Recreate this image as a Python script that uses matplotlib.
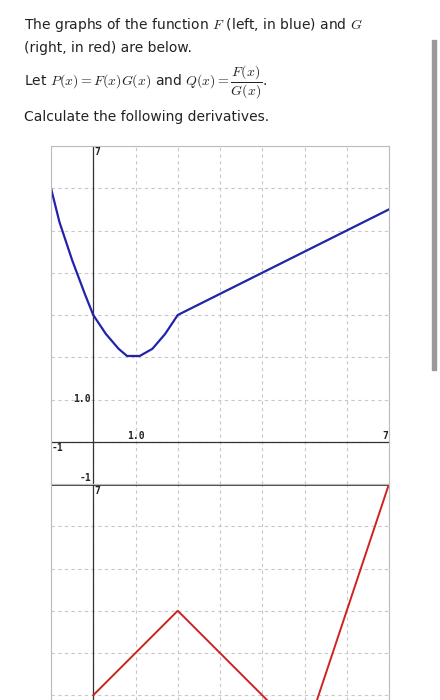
import matplotlib
matplotlib.use("Agg")
import matplotlib.pyplot as plt
from matplotlib.patches import Rectangle

plt.rcParams["mathtext.fontset"] = "cm"

# Data
F_x = [-1, -0.8, -0.5, -0.2, 0, 0.3, 0.6, 0.8, 1.1, 1.4, 1.7, 2, 7]
F_y = [6, 5.2, 4.3, 3.5, 3.0, 2.55, 2.2, 2.03, 2.03, 2.2, 2.55, 3.0, 5.5]
G_x = [0, 2, 4, 5, 7]
G_y = [2, 4, 2, 1, 7]
xlim = (-1, 7)

W, H = 440, 700
fig = plt.figure(figsize=(4.4, 7), dpi=100)
fig.patch.set_facecolor("white")

def fx(p): return p / W
def fy(p): return 1 - p / H

fs = 10
fig.text(fx(24), fy(25), r"The graphs of the function $F$ (left, in blue) and $G$", fontsize=fs, va="center", color="#222")
fig.text(fx(24), fy(48), "(right, in red) are below.", fontsize=fs, va="center", color="#222")
fig.text(fx(24), fy(82), r"Let $P(x) = F(x)G(x)$ and $Q(x) = \dfrac{F(x)}{G(x)}$.", fontsize=fs, va="center", color="#222")
fig.text(fx(24), fy(117), "Calculate the following derivatives.", fontsize=fs, va="center", color="#222")

# scrollbar
fig.patches.append(Rectangle((fx(432), fy(370)), fx(4), 330 / H, transform=fig.transFigure,
                             color="#999", zorder=5))

L, R = 51, 389
unit = (R - L) / 8.0
top1, bot1 = 146, 484
ax1 = fig.add_axes([fx(L), fy(bot1), (R - L) / W, (bot1 - top1) / H])
bot2 = 700
ax2 = fig.add_axes([fx(L), 0, (R - L) / W, (bot2 - bot1) / H])

lab = dict(fontsize=7, family="DejaVu Sans Mono", fontweight="bold", color="#222")
for ax in (ax1, ax2):
    ax.set_xlim(*xlim)
    ax.set_xticks(range(-1, 8)); ax.set_yticks(range(-1, 8))
    ax.grid(True, ls=(0, (3, 3)), color="#c8c8c8", lw=0.8)
    ax.tick_params(length=0, labelbottom=False, labelleft=False)
    for s in ax.spines.values():
        s.set_color("#bbbbbb"); s.set_linewidth(0.8)
    ax.axvline(0, color="#333", lw=0.9)

ax1.set_ylim(-1, 7)
ax1.axhline(0, color="#333", lw=0.9)
ax1.plot(F_x, F_y, color="#2222aa", lw=1.6)
ax1.text(0.02, 6.98, "7", ha="left", va="top", **lab)
ax1.text(-0.05, 1, "1.0", ha="right", va="center", **lab)
ax1.text(1, 0.02, "1.0", ha="center", va="bottom", **lab)
ax1.text(-0.98, -0.02, "-1", ha="left", va="top", **lab)
ax1.text(6.98, 0.02, "7", ha="right", va="bottom", **lab)
ax1.text(-0.05, -0.98, "-1", ha="right", va="bottom", **lab)

ax2.set_ylim(7 - (bot2 - bot1) / unit, 7)
ax2.axhline(7, color="#111", lw=1.8)
ax2.plot(G_x, G_y, color="#cc2222", lw=1.4)
ax2.text(0.02, 6.95, "7", ha="left", va="top", **lab)

fig.savefig("out.png", dpi=100)
